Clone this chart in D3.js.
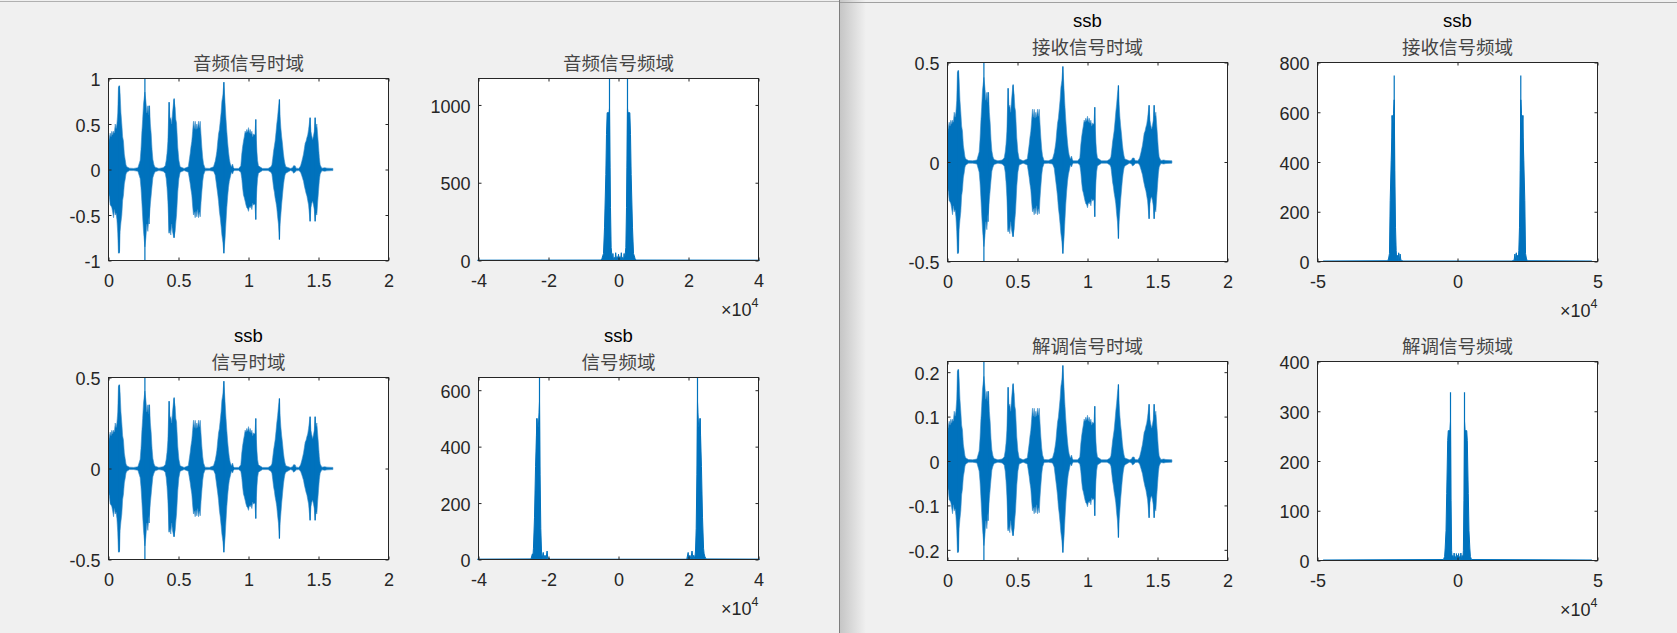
<!DOCTYPE html>
<html>
<head>
<meta charset="utf-8">
<script src="https://cdn.jsdelivr.net/npm/d3@7"></script>
<style>
  html, body { margin: 0; padding: 0; background: #f0f0f0; }
  svg { display: block; }
  .tick text { font-family: "Liberation Sans", Arial, sans-serif; font-size: 18px; fill: #262626; }
  .title-cn { font-family: "Noto Sans CJK SC", sans-serif; font-size: 18.5px; font-weight: 400; fill: #454545; }
  .title-en { font-family: "Liberation Sans", Arial, sans-serif; font-size: 18.5px; fill: #000; }
  .expo { font-family: "Liberation Sans", Arial, sans-serif; fill: #262626; }
</style>
</head>
<body>
<div id="root"></div>
<script>
// ---- data ----

// audio waveform envelope: [time s, upper, lower], in units of the peak amplitude
const waveEnvelope = [
  [0.000, 0.29, -0.26], [0.006, 0.35, -0.30], [0.012, 0.40, -0.39], [0.018, 0.36, -0.40],
  [0.024, 0.42, -0.42], [0.030, 0.38, -0.47], [0.036, 0.42, -0.53], [0.042, 0.40, -0.44],
  [0.048, 0.50, -0.50], [0.054, 0.45, -0.48], [0.060, 0.50, -0.55], [0.066, 0.62, -0.70],
  [0.071, 0.90, -0.92], [0.079, 0.92, -0.90], [0.083, 0.83, -0.68], [0.089, 0.62, -0.58],
  [0.095, 0.50, -0.50], [0.101, 0.36, -0.34], [0.107, 0.31, -0.28], [0.113, 0.17, -0.16],
  [0.119, 0.11, -0.11], [0.125, 0.05, -0.05], [0.131, 0.03, -0.03], [0.150, 0.015, -0.012],
  [0.180, 0.012, -0.012], [0.210, 0.02, -0.02], [0.226, 0.10, -0.10], [0.232, 0.22, -0.20],
  [0.238, 0.40, -0.35], [0.244, 0.55, -0.52], [0.250, 0.72, -0.68], [0.260, 0.85, -0.85],
  [0.267, 0.75, -0.75], [0.274, 0.62, -0.60], [0.281, 0.70, -0.68], [0.287, 0.60, -0.55],
  [0.293, 0.70, -0.50], [0.299, 0.50, -0.38], [0.305, 0.39, -0.28], [0.311, 0.22, -0.18],
  [0.317, 0.11, -0.09], [0.325, 0.05, -0.05], [0.333, 0.025, -0.025], [0.360, 0.012, -0.012],
  [0.390, 0.02, -0.02], [0.405, 0.04, -0.04], [0.412, 0.10, -0.10], [0.418, 0.18, -0.20],
  [0.424, 0.31, -0.35], [0.433, 0.74, -0.68], [0.439, 0.55, -0.66], [0.445, 0.57, -0.72],
  [0.451, 0.50, -0.60], [0.457, 0.62, -0.68], [0.467, 0.77, -0.75], [0.476, 0.68, -0.68],
  [0.481, 0.55, -0.58], [0.486, 0.51, -0.50], [0.495, 0.24, -0.24], [0.503, 0.10, -0.10],
  [0.512, 0.03, -0.03], [0.540, 0.012, -0.012], [0.570, 0.03, -0.03], [0.583, 0.17, -0.15],
  [0.589, 0.25, -0.22], [0.595, 0.31, -0.28], [0.601, 0.42, -0.40], [0.607, 0.53, -0.50],
  [0.613, 0.45, -0.47], [0.619, 0.53, -0.53], [0.625, 0.44, -0.46], [0.631, 0.50, -0.52],
  [0.637, 0.45, -0.44], [0.643, 0.53, -0.53], [0.649, 0.46, -0.47], [0.655, 0.53, -0.52],
  [0.661, 0.38, -0.36], [0.667, 0.24, -0.24], [0.673, 0.13, -0.13], [0.679, 0.06, -0.06],
  [0.690, 0.015, -0.015], [0.720, 0.012, -0.012], [0.750, 0.03, -0.02], [0.762, 0.09, -0.06],
  [0.768, 0.14, -0.13], [0.774, 0.20, -0.20], [0.780, 0.30, -0.27], [0.786, 0.39, -0.35],
  [0.792, 0.44, -0.46], [0.798, 0.53, -0.53], [0.804, 0.62, -0.62], [0.810, 0.75, -0.72],
  [0.817, 0.82, -0.80], [0.824, 0.96, -0.92], [0.833, 0.72, -0.75], [0.839, 0.56, -0.58],
  [0.845, 0.42, -0.42], [0.851, 0.30, -0.30], [0.857, 0.20, -0.20], [0.863, 0.12, -0.13],
  [0.869, 0.07, -0.09], [0.878, 0.03, -0.03], [0.886, 0.06, -0.05], [0.893, 0.02, -0.02],
  [0.900, 0.012, -0.012], [0.930, 0.012, -0.012], [0.945, 0.04, -0.03], [0.952, 0.17, -0.10],
  [0.958, 0.25, -0.20], [0.964, 0.31, -0.28], [0.970, 0.36, -0.31], [0.976, 0.42, -0.35],
  [0.982, 0.40, -0.39], [0.988, 0.44, -0.42], [0.994, 0.41, -0.43], [1.000, 0.46, -0.46],
  [1.006, 0.40, -0.41], [1.012, 0.44, -0.42], [1.018, 0.39, -0.40], [1.024, 0.42, -0.44],
  [1.030, 0.36, -0.37], [1.036, 0.39, -0.39], [1.046, 0.38, -0.38], [1.052, 0.55, -0.55],
  [1.056, 0.32, -0.32], [1.060, 0.20, -0.20], [1.065, 0.10, -0.10], [1.071, 0.04, -0.04],
  [1.100, 0.012, -0.012], [1.140, 0.012, -0.012], [1.160, 0.03, -0.03], [1.167, 0.05, -0.05],
  [1.173, 0.12, -0.12], [1.179, 0.20, -0.20], [1.185, 0.26, -0.25], [1.190, 0.31, -0.31],
  [1.196, 0.40, -0.36], [1.202, 0.50, -0.42], [1.208, 0.58, -0.52], [1.214, 0.68, -0.60],
  [1.221, 0.77, -0.77], [1.226, 0.58, -0.60], [1.231, 0.46, -0.50], [1.237, 0.36, -0.38],
  [1.243, 0.28, -0.28], [1.249, 0.18, -0.18], [1.255, 0.11, -0.11], [1.261, 0.06, -0.06],
  [1.267, 0.03, -0.04], [1.300, 0.012, -0.012], [1.315, 0.02, -0.02], [1.321, 0.04, -0.04],
  [1.333, 0.04, -0.03], [1.340, 0.015, -0.015], [1.360, 0.012, -0.012], [1.372, 0.04, -0.03],
  [1.381, 0.09, -0.07], [1.387, 0.13, -0.10], [1.393, 0.17, -0.13], [1.399, 0.23, -0.18],
  [1.405, 0.29, -0.22], [1.411, 0.31, -0.26], [1.417, 0.35, -0.29], [1.423, 0.38, -0.34],
  [1.429, 0.44, -0.39], [1.440, 0.57, -0.57], [1.446, 0.42, -0.42], [1.452, 0.37, -0.37],
  [1.458, 0.33, -0.35], [1.464, 0.37, -0.39], [1.470, 0.42, -0.44], [1.476, 0.57, -0.57],
  [1.482, 0.46, -0.48], [1.488, 0.50, -0.50], [1.494, 0.38, -0.36], [1.500, 0.26, -0.24],
  [1.506, 0.13, -0.12], [1.512, 0.05, -0.05], [1.524, 0.015, -0.015], [1.545, 0.02, -0.02],
  [1.560, 0.015, -0.015], [1.603, 0.012, -0.012]
];
// single tall samples: [time s, upper, lower]
const waveSpikes = [
  [0.076, 0.92, -0.92], [0.260, 1.00, -1.00], [0.290, 0.70, -0.60], [0.433, 0.74, -0.70],
  [0.469, 0.78, -0.75], [0.824, 0.96, -0.92], [1.052, 0.55, -0.55], [1.221, 0.77, -0.77],
  [1.440, 0.57, -0.57], [1.476, 0.57, -0.57]
];
// peak amplitude of each time plot
const peakAudio = 1, peakSsb = 0.5, peakRx = 0.5, peakDemod = 0.224;

// spectra: [frequency x1e4 Hz, magnitude]
const audioSpectrum = [
  [-4.8, 2], [-0.50, 3], [-0.476, 10], [-0.45, 30], [-0.429, 45], [-0.40, 210], [-0.362, 553],
  [-0.343, 810], [-0.324, 950], [-0.267, 950], [-0.257, 980], [-0.24, 600], [-0.229, 340],
  [-0.21, 84], [-0.19, 35], [-0.175, 4], [-0.16, 45], [-0.145, 4], [-0.12, 20], [-0.10, 3],
  [-0.08, 50], [-0.06, 3], [-0.04, 25], [-0.02, 3], [0, 40], [0.02, 3], [0.04, 25], [0.06, 3],
  [0.08, 50], [0.10, 3], [0.12, 20], [0.145, 4], [0.16, 45], [0.175, 4], [0.19, 35], [0.21, 84],
  [0.229, 340], [0.24, 600], [0.257, 980], [0.267, 950], [0.324, 950], [0.343, 810], [0.362, 553],
  [0.40, 210], [0.429, 45], [0.45, 30], [0.476, 10], [0.50, 3], [4.8, 2]
];
const audioSpikes = [[-0.257, 1170], [0.257, 1170]];

const ssbSpectrum = [
  [-4.8, 1], [-2.50, 2], [-2.46, 20], [-2.446, 10], [-2.43, 40], [-2.40, 150], [-2.37, 330],
  [-2.345, 440], [-2.331, 500], [-2.31, 460], [-2.285, 480], [-2.27, 520], [-2.257, 560],
  [-2.24, 300], [-2.22, 110], [-2.20, 30], [-2.18, 3], [-2.15, 25], [-2.13, 3], [-2.10, 15],
  [-2.07, 3], [-2.04, 30], [-2.02, 3], [-1.99, 5], [-1.95, 1],
  [1.95, 1], [1.99, 25], [2.01, 3], [2.04, 15], [2.07, 3], [2.10, 30], [2.13, 3], [2.15, 15],
  [2.18, 3], [2.20, 30], [2.22, 110], [2.24, 300], [2.257, 560], [2.27, 520], [2.285, 480],
  [2.31, 460], [2.331, 500], [2.345, 440], [2.37, 330], [2.40, 150], [2.43, 40], [2.446, 20],
  [2.47, 10], [2.50, 2], [4.8, 1]
];
const ssbSpikes = [[-2.257, 645], [2.257, 645], [-2.331, 500], [2.331, 500]];

const rxSpectrum = [
  [-4.8, 2], [-2.50, 3], [-2.464, 10], [-2.43, 32], [-2.404, 245], [-2.368, 406], [-2.345, 500],
  [-2.333, 587], [-2.31, 540], [-2.285, 595], [-2.26, 650], [-2.238, 366], [-2.214, 138],
  [-2.19, 44], [-2.17, 4], [-2.15, 25], [-2.12, 4], [-2.10, 35], [-2.07, 4], [-2.05, 30],
  [-2.02, 3], [-1.99, 5], [-1.95, 2],
  [1.95, 2], [1.99, 5], [2.02, 3], [2.05, 30], [2.07, 4], [2.10, 35], [2.12, 4], [2.15, 25],
  [2.17, 4], [2.19, 44], [2.214, 138], [2.238, 366], [2.26, 650], [2.285, 595], [2.31, 540],
  [2.333, 587], [2.345, 500], [2.368, 406], [2.404, 245], [2.43, 32], [2.464, 10], [2.50, 3], [4.8, 2]
];
const rxSpikes = [[-2.26, 748], [2.26, 748], [-2.333, 587], [2.333, 587]];

const demodSpectrum = [
  [-4.8, 1], [-0.50, 2], [-0.46, 8], [-0.44, 25], [-0.41, 60], [-0.385, 135], [-0.35, 241],
  [-0.33, 261], [-0.27, 261], [-0.25, 280], [-0.23, 120], [-0.21, 20], [-0.19, 2],
  [-0.17, 10], [-0.145, 2], [-0.12, 15], [-0.10, 2], [-0.08, 8], [-0.06, 2], [-0.04, 14],
  [-0.02, 2], [0, 10], [0.02, 2], [0.04, 14], [0.06, 2], [0.08, 8], [0.10, 2], [0.12, 15],
  [0.145, 2], [0.17, 10], [0.19, 2], [0.21, 20], [0.23, 120], [0.25, 280], [0.27, 261],
  [0.33, 261], [0.35, 241], [0.385, 135], [0.41, 60], [0.44, 25], [0.46, 8], [0.50, 2], [4.8, 1]
];
const demodSpikes = [[-0.25, 338], [0.25, 338]];

// axis ticks and labels
const timeTicks = [0, 0.5, 1, 1.5, 2];
const freqTicks8 = [-4, -2, 0, 2, 4];
const freqTicks10 = [-5, 0, 5];
const yTicksAudio = [-1, -0.5, 0, 0.5, 1];
const yTicksHalf = [-0.5, 0, 0.5];
const yTicksDemod = [-0.2, -0.1, 0, 0.1, 0.2];
const yTicksAudioSpec = [0, 500, 1000];
const yTicksSsbSpec = [0, 200, 400, 600];
const yTicksRxSpec = [0, 200, 400, 600, 800];
const yTicksDemodSpec = [0, 100, 200, 300, 400];
const titles = [
  ['音频信号时域'], ['音频信号频域'], ['ssb', '信号时域'], ['ssb', '信号频域'],
  ['ssb', '接收信号时域'], ['ssb', '接收信号频域'], ['解调信号时域'], ['解调信号频域']
];

// ---- layout ----
const W = 1677, H = 633;
const blue = '#0072BD', ink = '#262626';

const panels = [
  { box: [108, 78, 280, 182], kind: 'time', peak: peakAudio, xDomain: [0, 2], xTicks: timeTicks, yDomain: [-1, 1], yTicks: yTicksAudio },
  { box: [478, 78, 280, 182], kind: 'freq', data: audioSpectrum, spikes: audioSpikes, xDomain: [-4, 4], xTicks: freqTicks8, yDomain: [0, 1170], yTicks: yTicksAudioSpec },
  { box: [108, 377, 280, 182], kind: 'time', peak: peakSsb, xDomain: [0, 2], xTicks: timeTicks, yDomain: [-0.5, 0.5], yTicks: yTicksHalf },
  { box: [478, 377, 280, 182], kind: 'freq', data: ssbSpectrum, spikes: ssbSpikes, xDomain: [-4, 4], xTicks: freqTicks8, yDomain: [0, 645], yTicks: yTicksSsbSpec },
  { box: [947, 62, 280, 199], kind: 'time', peak: peakRx, xDomain: [0, 2], xTicks: timeTicks, yDomain: [-0.5, 0.5], yTicks: yTicksHalf },
  { box: [1317, 62, 280, 199], kind: 'freq', data: rxSpectrum, spikes: rxSpikes, xDomain: [-5, 5], xTicks: freqTicks10, yDomain: [0, 800], yTicks: yTicksRxSpec },
  { box: [947, 361, 280, 199], kind: 'time', peak: peakDemod, xDomain: [0, 2], xTicks: timeTicks, yDomain: [-0.224, 0.224], yTicks: yTicksDemod },
  { box: [1317, 361, 280, 199], kind: 'freq', data: demodSpectrum, spikes: demodSpikes, xDomain: [-5, 5], xTicks: freqTicks10, yDomain: [0, 400], yTicks: yTicksDemodSpec }
];

const svg = d3.select('#root').append('svg')
  .attr('width', W)
  .attr('height', H)
  .attr('viewBox', [0, 0, W, H]);

// window chrome: two figure windows side by side
const defs = svg.append('defs');
const shade = defs.append('linearGradient').attr('id', 'shade');
shade.append('stop').attr('offset', 0).attr('stop-color', '#c6c6c6');
shade.append('stop').attr('offset', 1).attr('stop-color', '#f0f0f0');
svg.append('rect').attr('x', 0).attr('y', 0).attr('width', W).attr('height', H).attr('fill', '#f0f0f0');
svg.append('rect').attr('x', 840).attr('y', 0).attr('width', 26).attr('height', H).attr('fill', 'url(#shade)');
svg.append('line').attr('x1', 839.5).attr('x2', 839.5).attr('y1', 0).attr('y2', H).attr('stroke', '#7d7d7d');
svg.append('line').attr('x1', 0).attr('x2', 839).attr('y1', 1.5).attr('y2', 1.5).attr('stroke', '#b0b0b0');
svg.append('line').attr('x1', 840).attr('x2', W).attr('y1', 2.5).attr('y2', 2.5).attr('stroke', '#a0a0a0');

function fmt(d) {
  return String(d);
}

panels.forEach((p, i) => {
  const [bx, by, bw, bh] = p.box;
  const g = svg.append('g').attr('transform', `translate(${bx + 0.5},${by + 0.5})`);

  const x = d3.scaleLinear().domain(p.xDomain).range([0, bw]);
  const y = d3.scaleLinear().domain(p.yDomain).range([bh, 0]);

  g.append('rect').attr('width', bw).attr('height', bh).attr('fill', '#fff');

  const clipId = `clip-${i}`;
  defs.append('clipPath').attr('id', clipId)
    .append('rect').attr('x', -1).attr('y', -1).attr('width', bw + 2).attr('height', bh + 2);
  const plot = g.append('g').attr('clip-path', `url(#${clipId})`);

  if (p.kind === 'time') {
    const area = d3.area()
      .x((d) => x(d[0]))
      .y0((d) => y(d[2] * p.peak))
      .y1((d) => y(d[1] * p.peak));
    plot.append('path')
      .datum(waveEnvelope)
      .attr('d', area)
      .attr('fill', blue)
      .attr('stroke', '#3d8fca')
      .attr('stroke-width', 0.6)
      .attr('stroke-linejoin', 'round');
    plot.selectAll('line.spike')
      .data(waveSpikes)
      .join('line')
      .attr('class', 'spike')
      .attr('x1', (d) => x(d[0])).attr('x2', (d) => x(d[0]))
      .attr('y1', (d) => y(d[1] * p.peak)).attr('y2', (d) => y(d[2] * p.peak))
      .attr('stroke', blue)
      .attr('stroke-width', 1.2);
  } else {
    const area = d3.area()
      .x((d) => x(d[0]))
      .y0(y(0))
      .y1((d) => y(d[1]));
    plot.append('path')
      .datum(p.data)
      .attr('d', area)
      .attr('fill', blue)
      .attr('stroke', blue)
      .attr('stroke-width', 1)
      .attr('stroke-linejoin', 'round');
    plot.selectAll('line.spike')
      .data(p.spikes)
      .join('line')
      .attr('class', 'spike')
      .attr('x1', (d) => x(d[0])).attr('x2', (d) => x(d[0]))
      .attr('y1', y(0)).attr('y2', (d) => y(d[1]))
      .attr('stroke', blue)
      .attr('stroke-width', 1.2);
  }

  // axes, ticks pointing inward on all four sides
  const styleAxis = (sel) => {
    sel.select('.domain').remove();
    sel.selectAll('.tick line').attr('stroke', ink);
  };
  g.append('g').attr('transform', `translate(0,${bh})`)
    .call(d3.axisBottom(x).tickValues(p.xTicks).tickFormat(fmt).tickSizeInner(-3).tickSizeOuter(0).tickPadding(14))
    .call(styleAxis);
  g.append('g')
    .call(d3.axisTop(x).tickValues(p.xTicks).tickFormat('').tickSizeInner(-3).tickSizeOuter(0))
    .call(styleAxis);
  g.append('g')
    .call(d3.axisLeft(y).tickValues(p.yTicks).tickFormat(fmt).tickSizeInner(-3).tickSizeOuter(0).tickPadding(8))
    .call(styleAxis)
    .selectAll('.tick text').attr('dy', '0.4em');
  g.append('g').attr('transform', `translate(${bw},0)`)
    .call(d3.axisRight(y).tickValues(p.yTicks).tickFormat('').tickSizeInner(-3).tickSizeOuter(0))
    .call(styleAxis);
  g.selectAll('.tick text').attr('fill', ink).attr('font-size', null).attr('font-family', null);

  g.append('rect')
    .attr('width', bw).attr('height', bh)
    .attr('fill', 'none').attr('stroke', ink).attr('stroke-width', 1);

  // title lines, last one sits just above the box
  const lines = titles[i];
  lines.forEach((t, k) => {
    const fromBottom = lines.length - 1 - k;
    g.append('text')
      .attr('class', /[a-z]/.test(t) ? 'title-en' : 'title-cn')
      .attr('x', bw / 2)
      .attr('y', fromBottom === 0 ? -8.5 : -36)
      .attr('text-anchor', 'middle')
      .text(t);
  });

  // x10^4 exponent under frequency axes
  if (p.kind === 'freq') {
    const ex = g.append('text')
      .attr('class', 'expo')
      .attr('x', bw)
      .attr('y', bh + 55)
      .attr('text-anchor', 'end');
    ex.append('tspan').attr('font-size', 18).text('×10');
    ex.append('tspan').attr('font-size', 12.5).attr('dy', -9).text('4');
  }
});
</script>
</body>
</html>
